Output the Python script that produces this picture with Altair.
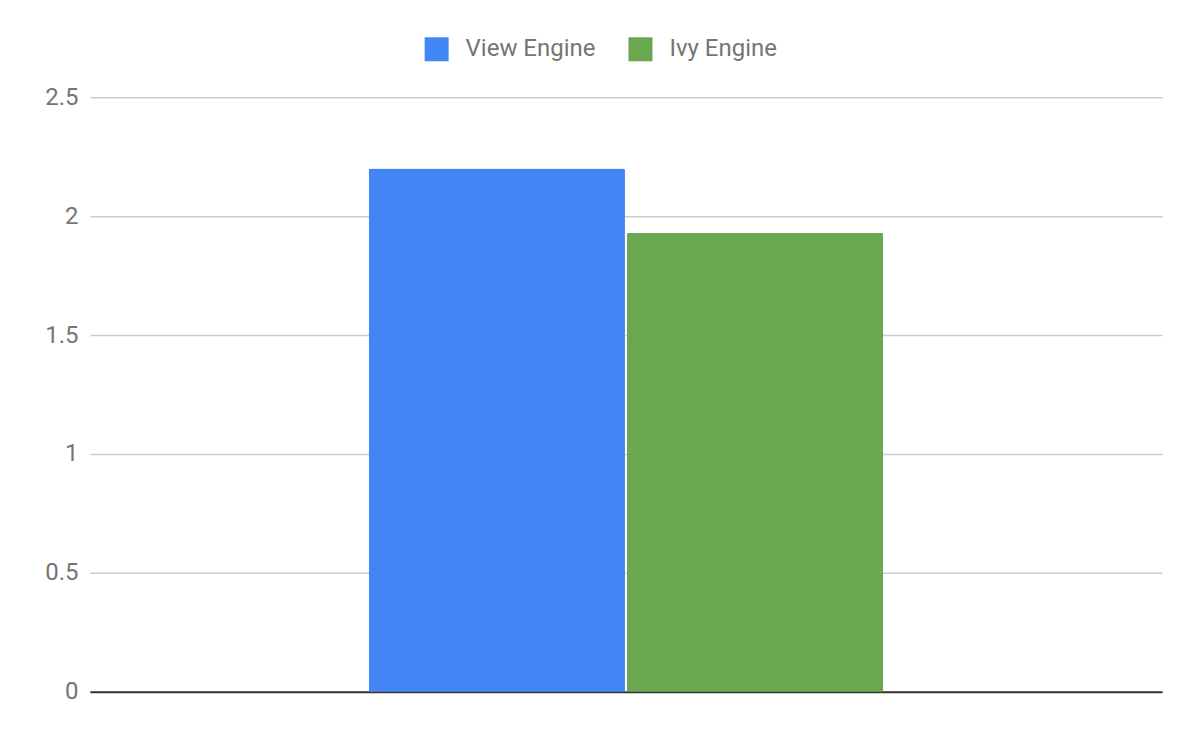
import altair as alt
import pandas as pd

engines = ["View Engine", "Ivy Engine"]
values = [2.2, 1.93]
colors = ["#4285F4", "#6AA84F"]
y_ticks = [0, 0.5, 1, 1.5, 2, 2.5]

df = pd.DataFrame({"group": ["all"] * len(engines), "engine": engines, "value": values})

chart = alt.Chart(df).mark_bar(
    cornerRadiusTopLeft=2, cornerRadiusTopRight=2
).encode(
    x=alt.X("group:N", title=None,
            scale=alt.Scale(paddingInner=0, paddingOuter=0.542),
            axis=alt.Axis(labels=False, ticks=False, domain=True,
                          domainColor="#333333", domainWidth=2, grid=False)),
    xOffset=alt.XOffset("engine:N", sort=engines,
                        scale=alt.Scale(paddingInner=0.0078, paddingOuter=0)),
    y=alt.Y("value:Q", title=None,
            scale=alt.Scale(domain=[0, 2.5], nice=False),
            axis=alt.Axis(values=y_ticks, domain=False, ticks=False,
                          gridColor="#cccccc", gridWidth=1.5,
                          labelColor="#757575", labelFontSize=24,
                          labelFont="Roboto", labelPadding=12,
                          labelExpr="format(datum.value, '~g')")),
    color=alt.Color("engine:N", sort=engines,
                    scale=alt.Scale(domain=engines, range=colors),
                    legend=alt.Legend(orient="none", direction="horizontal",
                                      legendX=335, legendY=-60, title=None,
                                      symbolType="square", symbolSize=576,
                                      symbolStrokeWidth=0,
                                      labelFont="Roboto", labelFontSize=24,
                                      labelColor="#757575", labelOffset=17,
                                      columnPadding=32)),
).properties(
    width=1073, height=595,
    background="white",
    autosize=alt.AutoSizeParams(type="none"),
    padding={"left": 82, "top": 89, "right": 30, "bottom": 40},
).configure_view(strokeWidth=0)

chart.save("out.html", embed_options={"renderer": "svg", "actions": False})
